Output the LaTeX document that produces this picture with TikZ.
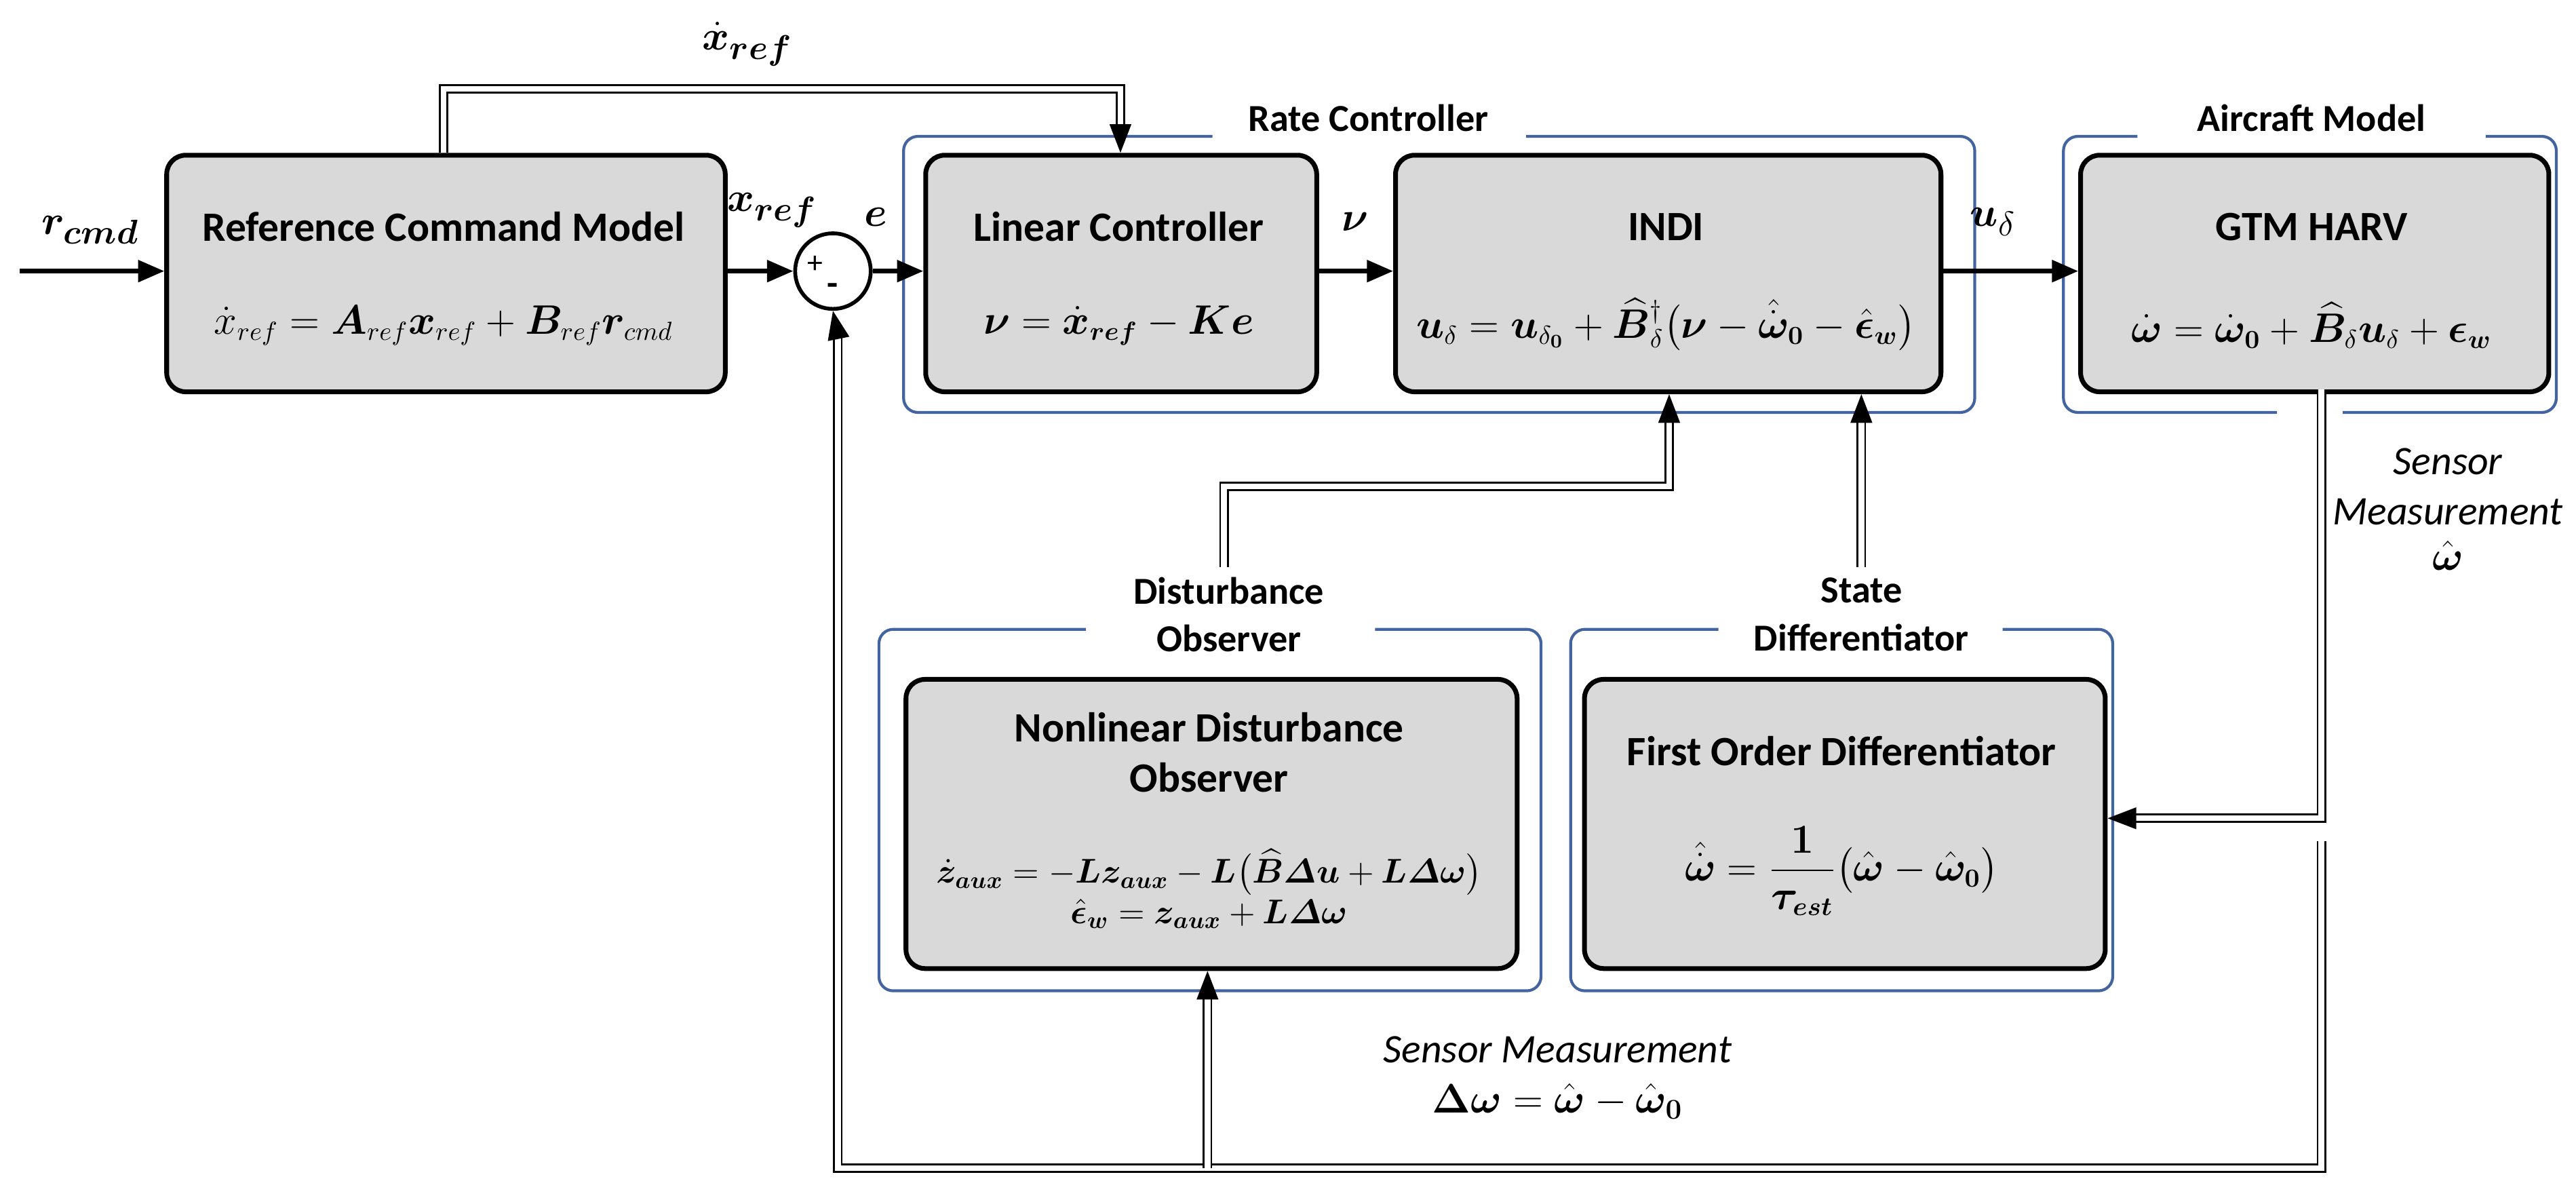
\documentclass[tikz,border=0pt]{standalone}
\usepackage{amsmath,amssymb,bm}
\usepackage{fontspec}
\setmainfont{Carlito}
\usetikzlibrary{arrows.meta}
\definecolor{grp}{RGB}{68,100,160}
\definecolor{boxg}{RGB}{217,217,217}
\begin{document}
\begin{tikzpicture}[x=0.02422cm,y=-0.02422cm,
  blk/.style={draw,line width=2pt,fill=boxg,rounded corners=8pt,anchor=north west,inner sep=0pt},
  ttl/.style={font=\fontsize{17.5}{21}\selectfont\bfseries,align=center},
  eq/.style={font=\fontsize{16}{20}\selectfont,align=center},
  grp/.style={draw=grp,line width=1.2pt,rounded corners=6pt},
  sig/.style={line width=1.8pt,-{Triangle[length=11pt,width=9pt]}},
  dbl/.style={line width=0.8pt,double distance=2.4pt},
  tip/.style={line width=0.8pt,-{Triangle[length=12pt,width=9pt]}},
  lbl/.style={font=\fontsize{19}{23}\selectfont}]
\useasboundingbox (0,0) rectangle (1568,729);
% blocks
\node[blk,minimum width=340*0.02422cm,minimum height=144*0.02422cm] (rcm) at (100,93) {};
\node[blk,minimum width=238*0.02422cm,minimum height=144*0.02422cm] (lc) at (562,93) {};
\node[blk,minimum width=332*0.02422cm,minimum height=144*0.02422cm] (indi) at (848,93) {};
\node[blk,minimum width=285*0.02422cm,minimum height=144*0.02422cm] (gtm) at (1265,93) {};
\node[blk,minimum width=372*0.02422cm,minimum height=176*0.02422cm] (ndo) at (550,412) {};
\node[blk,minimum width=317*0.02422cm,minimum height=176*0.02422cm] (fod) at (963,412) {};
% texts
\node[ttl] (t1) at (270,138) {Reference Command Model};
\node[eq] (e1) at (270,198) {$\dot{x}_{ref}=\bm{A}_{ref}\bm{x}_{ref}+\bm{B}_{ref}\bm{r}_{cmd}$};
\node[ttl] (t2) at (681,138) {Linear Controller};
\node[eq] (e2) at (681,198) {$\bm{\nu}=\dot{\bm{x}}_{\bm{ref}}-\bm{Ke}$};
\node[ttl] (t3) at (1014,138) {INDI};
\node[eq] (e3) at (1014,198) {$\bm{u}_\delta=\bm{u}_{\delta_{\bm0}}+\widehat{\bm{B}}{}_\delta^\dagger\bigl(\bm\nu-\hat{\dot{\bm\omega}}_{\bm0}-\hat{\bm\epsilon}_{\bm w}\bigr)$};
\node[ttl] (t4) at (1407,138) {GTM HARV};
\node[eq] (e4) at (1407,198) {$\dot{\bm\omega}=\dot{\bm\omega}_{\bm0}+\widehat{\bm B}_\delta\bm u_\delta+\bm\epsilon_{\bm w}$};
\node[ttl] (t5) at (736,458) {Nonlinear Disturbance\\Observer};
\node[eq,font=\fontsize{14.5}{19}\selectfont] (e5) at (736,541) {$\dot{\bm z}_{\bm{aux}}=-\bm L\bm z_{\bm{aux}}-\bm L\bigl(\widehat{\bm B}\bm\varDelta\bm u+\bm L\bm\varDelta\bm\omega\bigr)$\\[-2pt]$\hat{\bm\epsilon}_{\bm w}=\bm z_{\bm{aux}}+\bm L\bm\varDelta\bm\omega$};
\node[ttl] (t6) at (1121,457) {First Order Differentiator};
\node[eq] (e6) at (1121,530) {$\hat{\dot{\bm\omega}}=\dfrac{\bm1}{\bm\tau_{\bm{est}}}\bigl(\hat{\bm\omega}-\hat{\bm\omega}_{\bm0}\bigr)$};
% groups
\draw[grp] (738,83) -- (550,83) -- (550,251) -- (1202,251) -- (1202,83) -- (929,83);
\node[ttl,font=\fontsize{16}{20}\selectfont\bfseries] (g1) at (833,72) {Rate Controller};
\draw[grp] (1301,83) -- (1256,83) -- (1256,251) -- (1386,251);
\draw[grp] (1426,251) -- (1556,251) -- (1556,83) -- (1513,83);
\node[ttl,font=\fontsize{16}{20}\selectfont\bfseries] (g2) at (1407,72) {Aircraft Model};
\draw[grp] (661,383) -- (535,383) -- (535,603) -- (938,603) -- (938,383) -- (837,383);
\node[ttl,font=\fontsize{16}{20}\selectfont\bfseries] (g3) at (748,374) {Disturbance\\Observer};
\draw[grp] (1046,383) -- (956,383) -- (956,603) -- (1286,603) -- (1286,383) -- (1219,383);
\node[ttl,font=\fontsize{16}{20}\selectfont\bfseries] (g4) at (1133,374) {State\\Differentiator};
% sum
\node[draw,circle,line width=1.6pt,minimum size=46*0.02422cm,inner sep=0pt,fill=white] (sum) at (507,165) {};
\node[font=\fontsize{13}{13}\selectfont] (pl) at (496,161) {+};
\node[font=\fontsize{15}{15}\selectfont\bfseries] (mi) at (507,176) {-};
% signals
\coordinate (rin) at (12,165);
\draw[sig] (rin) -- (rcm.west |- rin);
\node[lbl] (rl) at (55,140) {$\bm r_{\bm{cmd}}$};
\draw[sig] (rcm.east |- sum) -- (sum.west);
\node[lbl] (xl) at (470,128) {$\bm x_{\bm{ref}}$};
\draw[sig] (sum.east) -- (lc.west |- sum);
\node[lbl] (el) at (533,132) {$\bm e$};
\draw[sig] (lc.east |- sum) -- (indi.west |- sum);
\node[lbl] (nl) at (825,135) {$\bm\nu$};
\draw[sig] (indi.east |- sum) -- (gtm.west |- sum);
\node[lbl] (ul) at (1213,135) {$\bm u_\delta$};
% xdot ref feedforward
\coordinate (a1) at (682,76);
\draw[dbl] (270,93) -- (270,54) -- (682,54) -- (a1);
\draw[tip] (a1) -- (lc.north -| a1);
\node[lbl] (xdl) at (455,27) {$\dot{\bm x}_{\bm{ref}}$};
% observer to INDI
\coordinate (a2) at (1016,254);
\draw[dbl] (745,345) -- (745,296) -- (1016,296) -- (a2);
\draw[tip] (a2) -- (indi.south -| a2);
\coordinate (a3) at (1133,254);
\draw[dbl] (1133,345) -- (a3);
\draw[tip] (a3) -- (indi.south -| a3);
% sensor to FOD
\coordinate (a4) at (1297,498);
\draw[dbl] (1413,237) -- (1413,498) -- (a4);
\draw[tip] (a4) -- (fod.east |- a4);
\node[font=\fontsize{17}{21}\selectfont\itshape,align=center] (sm1) at (1490,310) {Sensor\\Measurement\\[-2pt]$\hat{\bm\omega}$};
% bottom feedback
\coordinate (a5) at (735,605);
\coordinate (a6) at (510,204);
\draw[dbl] (1413,512) -- (1413,711) -- (510,711) -- (a6);
\draw[tip] (a6) -- (sum.south);
\draw[dbl] (735,711) -- (a5);
\draw[tip] (a5) -- (ndo.south -| a5);
\node[font=\fontsize{17}{21}\selectfont\itshape,align=center] (sm2) at (948,656) {Sensor Measurement\\$\bm{\Delta\omega}=\hat{\bm\omega}-\hat{\bm\omega}_{\bm0}$};
\end{tikzpicture}
\end{document}
